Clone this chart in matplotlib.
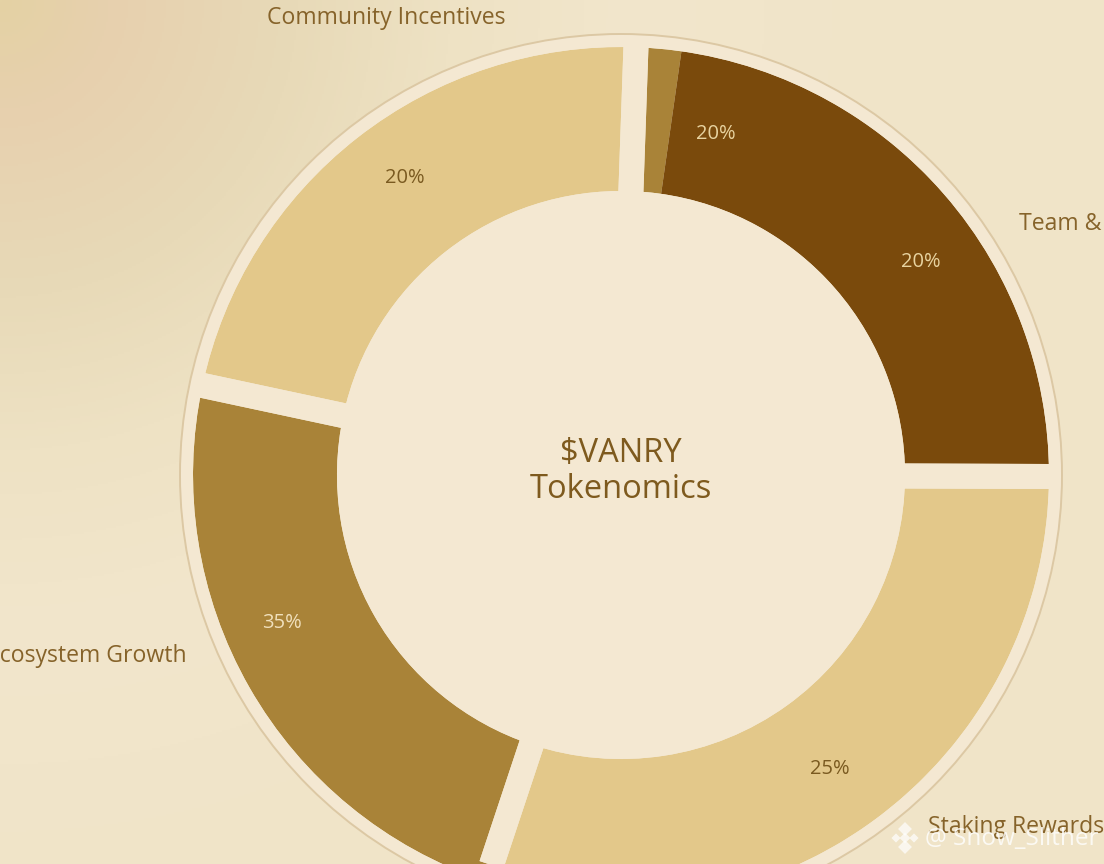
import numpy as np
import matplotlib
matplotlib.use("Agg")
import matplotlib.pyplot as plt
from matplotlib.colors import LinearSegmentedColormap
from matplotlib.patches import Circle

# share of the circle for each slice, clockwise from just right of the top
slice_sizes = [1.7, 22.8, 30.05, 23.25, 22.2]
slice_colors = ["#A98338", "#7A4A0C", "#E3C88A", "#A98338", "#E3C88A"]

pct_labels = ["20%", "20%", "25%", "35%", "20%"]
pct_x = [716, 921, 830, 282, 405]
pct_y = [134, 262, 769, 623, 178]
pct_colors = ["#E8D3A0", "#E8D3A0", "#7A5A20", "#F0E0BC", "#7A5A20"]

names = ["Community Incentives", "Team &", "Ecosystem Growth", "Staking Rewards"]
name_x = [386, 1019, 187, 928]
name_y = [18, 224, 656, 827]
name_ha = ["center", "left", "right", "left"]

CX, CY = 621, 475
R_OUT, R_IN = 428, 284
CREAM = "#F4E8D2"
GAP_PX = 25

plt.rcParams["font.family"] = ["Open Sans", "DejaVu Sans"]

fig = plt.figure(figsize=(11.04, 8.64), dpi=100)
ax = fig.add_axes([0, 0, 1, 1])

# background glow, darker towards the top left corner
yy, xx = np.mgrid[0:864:432j, 0:1104:552j]
dist = np.sqrt(xx ** 2 + yy ** 2)
bg_cmap = LinearSegmentedColormap.from_list(
    "bg",
    [(0, "#E4D2A4"), (0.12, "#E7D0AE"), (0.33, "#E8DAB8"), (0.5, "#EEE2C4"), (0.7, "#F2E6CC"), (1, "#F0E4C8")],
    N=1024,
)
ax.imshow(dist / 900, cmap=bg_cmap, extent=(0, 1104, 864, 0), vmin=0, vmax=1, aspect="auto", zorder=0)

disc = Circle((CX, CY), 441, fc=CREAM, ec="none", zorder=1)
ax.add_patch(disc)

wedges, _ = ax.pie(
    slice_sizes,
    colors=slice_colors,
    center=(CX, CY),
    radius=R_OUT,
    startangle=-88,
    counterclock=True,
    frame=True,
    wedgeprops={"width": R_OUT - R_IN, "linewidth": 0},
)
for w in wedges:
    w.set_zorder(2)
    w.set_clip_on(True)

# wide cream outlines make the parallel gaps; first two slices touch
gap_sizes = [slice_sizes[0] + slice_sizes[1]] + slice_sizes[2:]
gaps, _ = ax.pie(
    gap_sizes,
    colors=["none"] * len(gap_sizes),
    center=(CX, CY),
    radius=R_OUT + GAP_PX / 2,
    startangle=-88,
    counterclock=True,
    frame=True,
    wedgeprops={
        "width": R_OUT - R_IN + GAP_PX,
        "linewidth": GAP_PX * 0.72,
        "edgecolor": CREAM,
        "facecolor": "none",
    },
)
for g in gaps:
    g.set_zorder(3)
    g.set_clip_on(True)
    g.set_clip_path(disc)

ax.add_patch(Circle((CX, CY), 441, fc="none", ec="#DCC8A4", lw=1.4, zorder=4))

ax.set_xlim(0, 1104)
ax.set_ylim(864, 0)
ax.set_aspect("auto")
ax.axis("off")

for txt, x, y, ha in zip(names, name_x, name_y, name_ha):
    ax.text(x, y, txt, ha=ha, va="center", fontsize=16.6, color="#86632A", zorder=5)

for txt, x, y, c in zip(pct_labels, pct_x, pct_y, pct_colors):
    ax.text(x, y, txt, ha="center", va="center", fontsize=14.5, color=c, zorder=5)

ax.text(621, 454, "$VANRY", ha="center", va="center", fontsize=23.5, color="#7E5A1E", zorder=5)
ax.text(621, 490, "Tokenomics", ha="center", va="center", fontsize=23.5, color="#7E5A1E", zorder=5)

# watermark
ax.scatter([905, 896, 914, 905, 905], [838, 838, 838, 829, 847], marker="D", s=[30, 22, 22, 50, 50],
           color="white", alpha=0.7, linewidths=0, zorder=6)
ax.text(925, 839, "@ Snow_Slither", ha="left", va="center", fontsize=17.5, color="white", alpha=0.8, zorder=6)

fig.savefig("out.png", dpi=100)
